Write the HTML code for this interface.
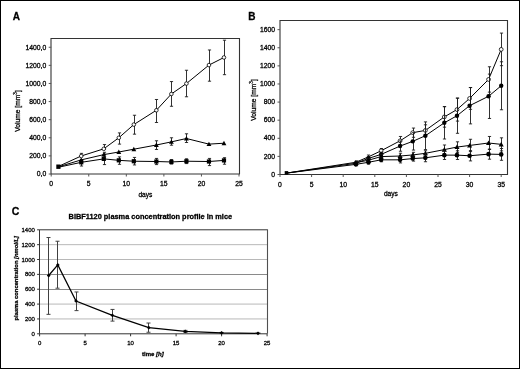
<!DOCTYPE html>
<html><head><meta charset="utf-8"><title>Figure</title>
<style>
html,body{margin:0;padding:0;background:#fff;}
body{width:520px;height:369px;overflow:hidden;}
svg{display:block;font-family:"Liberation Sans", Arial, sans-serif;}
text{stroke:#000;stroke-width:0.28px;}
</style></head><body>
<svg width="520" height="369" viewBox="0 0 520 369">
<rect x="0.5" y="0.5" width="519" height="368" fill="#fff" stroke="#000" stroke-width="1"/><g font-weight="bold" font-size="10" fill="#000"><text x="12.8" y="19.9">A</text><text x="248.2" y="19.8">B</text><text x="11.7" y="214.5" font-size="10.5">C</text></g><path d="M51,174 V38.5 H239.5 V174 Z" fill="none" stroke="#333" stroke-width="1.1"/><g stroke="#555" stroke-width="1"><line x1="48.7" y1="174" x2="51.2" y2="174"/><line x1="48.7" y1="155.89" x2="51.2" y2="155.89"/><line x1="48.7" y1="137.79" x2="51.2" y2="137.79"/><line x1="48.7" y1="119.68" x2="51.2" y2="119.68"/><line x1="48.7" y1="101.57" x2="51.2" y2="101.57"/><line x1="48.7" y1="83.47" x2="51.2" y2="83.47"/><line x1="48.7" y1="65.36" x2="51.2" y2="65.36"/><line x1="48.7" y1="47.25" x2="51.2" y2="47.25"/><line x1="51.2" y1="174" x2="51.2" y2="176.5"/><line x1="88.76" y1="174" x2="88.76" y2="176.5"/><line x1="126.32" y1="174" x2="126.32" y2="176.5"/><line x1="163.88" y1="174" x2="163.88" y2="176.5"/><line x1="201.44" y1="174" x2="201.44" y2="176.5"/><line x1="239" y1="174" x2="239" y2="176.5"/></g><g font-size="6.8" fill="#000"><text x="46.2" y="176.4" text-anchor="end">0,0</text><text x="46.2" y="158.29" text-anchor="end">200,0</text><text x="46.2" y="140.19" text-anchor="end">400,0</text><text x="46.2" y="122.08" text-anchor="end">600,0</text><text x="46.2" y="103.97" text-anchor="end">800,0</text><text x="46.2" y="85.87" text-anchor="end">1000,0</text><text x="46.2" y="67.76" text-anchor="end">1200,0</text><text x="46.2" y="49.65" text-anchor="end">1400,0</text><text x="51.2" y="186.3" text-anchor="middle">0</text><text x="88.76" y="186.3" text-anchor="middle">5</text><text x="126.32" y="186.3" text-anchor="middle">10</text><text x="163.88" y="186.3" text-anchor="middle">15</text><text x="201.44" y="186.3" text-anchor="middle">20</text><text x="239" y="186.3" text-anchor="middle">25</text></g><g stroke="#1a1a1a" stroke-width="0.9"><line x1="81.5" y1="159.51" x2="81.5" y2="166.03"/><line x1="79.9" y1="159.51" x2="83.1" y2="159.51"/><line x1="79.9" y1="166.03" x2="83.1" y2="166.03"/><line x1="104.5" y1="154.17" x2="104.5" y2="164.58"/><line x1="102.9" y1="154.17" x2="106.1" y2="154.17"/><line x1="102.9" y1="164.58" x2="106.1" y2="164.58"/><line x1="119.5" y1="156.89" x2="119.5" y2="164.31"/><line x1="117.9" y1="156.89" x2="121.1" y2="156.89"/><line x1="117.9" y1="164.31" x2="121.1" y2="164.31"/><line x1="134.5" y1="157.43" x2="134.5" y2="164.95"/><line x1="132.9" y1="157.43" x2="136.1" y2="157.43"/><line x1="132.9" y1="164.95" x2="136.1" y2="164.95"/><line x1="156.5" y1="158.43" x2="156.5" y2="164.58"/><line x1="154.9" y1="158.43" x2="158.1" y2="158.43"/><line x1="154.9" y1="164.58" x2="158.1" y2="164.58"/><line x1="171.5" y1="159.51" x2="171.5" y2="164.04"/><line x1="169.9" y1="159.51" x2="173.1" y2="159.51"/><line x1="169.9" y1="164.04" x2="173.1" y2="164.04"/><line x1="186.5" y1="158.79" x2="186.5" y2="163.59"/><line x1="184.9" y1="158.79" x2="188.1" y2="158.79"/><line x1="184.9" y1="163.59" x2="188.1" y2="163.59"/><line x1="209.5" y1="158.43" x2="209.5" y2="165.58"/><line x1="207.9" y1="158.43" x2="211.1" y2="158.43"/><line x1="207.9" y1="165.58" x2="211.1" y2="165.58"/><line x1="224.5" y1="157.7" x2="224.5" y2="164.22"/><line x1="222.9" y1="157.7" x2="226.1" y2="157.7"/><line x1="222.9" y1="164.22" x2="226.1" y2="164.22"/></g><polyline points="58.71,167.21 81.25,162.32 103.78,158.88 118.81,160.33 133.83,161.23 156.37,161.51 171.39,161.96 186.42,161.23 208.95,161.51 223.98,160.42" fill="none" stroke="#000" stroke-width="1.0"/><rect x="79.15" y="160.22" width="4.2" height="4.2" fill="#000"/><rect x="101.68" y="156.78" width="4.2" height="4.2" fill="#000"/><rect x="116.71" y="158.23" width="4.2" height="4.2" fill="#000"/><rect x="131.73" y="159.13" width="4.2" height="4.2" fill="#000"/><rect x="154.27" y="159.41" width="4.2" height="4.2" fill="#000"/><rect x="169.29" y="159.86" width="4.2" height="4.2" fill="#000"/><rect x="184.32" y="159.13" width="4.2" height="4.2" fill="#000"/><rect x="206.85" y="159.41" width="4.2" height="4.2" fill="#000"/><rect x="221.88" y="158.32" width="4.2" height="4.2" fill="#000"/><g stroke="#1a1a1a" stroke-width="0.9"><line x1="104.5" y1="152.27" x2="104.5" y2="156.8"/><line x1="102.9" y1="152.27" x2="106.1" y2="152.27"/><line x1="102.9" y1="156.8" x2="106.1" y2="156.8"/><line x1="156.5" y1="140.77" x2="156.5" y2="149.47"/><line x1="154.9" y1="140.77" x2="158.1" y2="140.77"/><line x1="154.9" y1="149.47" x2="158.1" y2="149.47"/><line x1="171.5" y1="137.79" x2="171.5" y2="145.21"/><line x1="169.9" y1="137.79" x2="173.1" y2="137.79"/><line x1="169.9" y1="145.21" x2="173.1" y2="145.21"/><line x1="186.5" y1="133.8" x2="186.5" y2="142.49"/><line x1="184.9" y1="133.8" x2="188.1" y2="133.8"/><line x1="184.9" y1="142.49" x2="188.1" y2="142.49"/></g><polyline points="58.71,166.76 81.25,159.88 103.78,154.63 118.81,152 133.83,149.19 156.37,145.03 171.39,141.86 186.42,138.51 208.95,144.12 223.98,143.22" fill="none" stroke="#000" stroke-width="1.0"/><polygon points="81.25,157.46 83.66,161.81 78.83,161.81" fill="#000"/><polygon points="103.78,152.21 106.2,156.56 101.37,156.56" fill="#000"/><polygon points="118.81,149.59 121.22,153.93 116.39,153.93" fill="#000"/><polygon points="133.83,146.78 136.25,151.13 131.42,151.13" fill="#000"/><polygon points="156.37,142.61 158.78,146.96 153.95,146.96" fill="#000"/><polygon points="171.39,139.45 173.81,143.79 168.98,143.79" fill="#000"/><polygon points="186.42,136.1 188.83,140.44 184,140.44" fill="#000"/><polygon points="208.95,141.71 211.37,146.06 206.54,146.06" fill="#000"/><polygon points="223.98,140.8 226.39,145.15 221.56,145.15" fill="#000"/><g stroke="#1a1a1a" stroke-width="0.9"><line x1="81.5" y1="153.36" x2="81.5" y2="155.98"/><line x1="79.9" y1="153.36" x2="83.1" y2="153.36"/><line x1="79.9" y1="155.98" x2="83.1" y2="155.98"/><line x1="104.5" y1="144.58" x2="104.5" y2="148.83"/><line x1="102.9" y1="144.58" x2="106.1" y2="144.58"/><line x1="102.9" y1="148.83" x2="106.1" y2="148.83"/><line x1="119.5" y1="132.9" x2="119.5" y2="144.12"/><line x1="117.9" y1="132.9" x2="121.1" y2="132.9"/><line x1="117.9" y1="144.12" x2="121.1" y2="144.12"/><line x1="134.5" y1="115.24" x2="134.5" y2="134.17"/><line x1="132.9" y1="115.24" x2="136.1" y2="115.24"/><line x1="132.9" y1="134.17" x2="136.1" y2="134.17"/><line x1="156.5" y1="99.49" x2="156.5" y2="122.49"/><line x1="154.9" y1="99.49" x2="158.1" y2="99.49"/><line x1="154.9" y1="122.49" x2="158.1" y2="122.49"/><line x1="171.5" y1="81.57" x2="171.5" y2="106.28"/><line x1="169.9" y1="81.57" x2="173.1" y2="81.57"/><line x1="169.9" y1="106.28" x2="173.1" y2="106.28"/><line x1="186.5" y1="70.25" x2="186.5" y2="96.78"/><line x1="184.9" y1="70.25" x2="188.1" y2="70.25"/><line x1="184.9" y1="96.78" x2="188.1" y2="96.78"/><line x1="209.5" y1="49.97" x2="209.5" y2="81.2"/><line x1="207.9" y1="49.97" x2="211.1" y2="49.97"/><line x1="207.9" y1="81.2" x2="211.1" y2="81.2"/><line x1="224.5" y1="40.19" x2="224.5" y2="74.68"/><line x1="222.9" y1="40.19" x2="226.1" y2="40.19"/><line x1="222.9" y1="74.68" x2="226.1" y2="74.68"/></g><polyline points="58.71,166.3 81.25,155.98 103.78,148.83 118.81,137.79 133.83,124.57 156.37,110.26 171.39,93.97 186.42,83.56 208.95,65.09 223.98,57.48" fill="none" stroke="#000" stroke-width="1.0"/><circle cx="81.25" cy="155.98" r="1.8" fill="#fff" stroke="#000" stroke-width="0.8"/><circle cx="103.78" cy="148.83" r="1.8" fill="#fff" stroke="#000" stroke-width="0.8"/><circle cx="118.81" cy="137.79" r="1.8" fill="#fff" stroke="#000" stroke-width="0.8"/><circle cx="133.83" cy="124.57" r="1.8" fill="#fff" stroke="#000" stroke-width="0.8"/><circle cx="156.37" cy="110.26" r="1.8" fill="#fff" stroke="#000" stroke-width="0.8"/><circle cx="171.39" cy="93.97" r="1.8" fill="#fff" stroke="#000" stroke-width="0.8"/><circle cx="186.42" cy="83.56" r="1.8" fill="#fff" stroke="#000" stroke-width="0.8"/><circle cx="208.95" cy="65.09" r="1.8" fill="#fff" stroke="#000" stroke-width="0.8"/><circle cx="223.98" cy="57.48" r="1.8" fill="#fff" stroke="#000" stroke-width="0.8"/><rect x="56.3" y="164.5" width="4.2" height="4.4" fill="#000"/><text x="145.4" y="197.3" font-size="6.6" text-anchor="middle">days</text><text transform="translate(19.7,111) rotate(-90)" font-size="6.7" text-anchor="middle">Volume [mm<tspan font-size="4.6" dy="-2.6">3</tspan><tspan dy="2.6">]</tspan></text><path d="M280,174.5 V20.5 H507.5 V174.5 Z" fill="none" stroke="#333" stroke-width="1.1"/><g stroke="#555" stroke-width="1"><line x1="277.5" y1="174.5" x2="280" y2="174.5"/><line x1="277.5" y1="156.39" x2="280" y2="156.39"/><line x1="277.5" y1="138.29" x2="280" y2="138.29"/><line x1="277.5" y1="120.18" x2="280" y2="120.18"/><line x1="277.5" y1="102.08" x2="280" y2="102.08"/><line x1="277.5" y1="83.97" x2="280" y2="83.97"/><line x1="277.5" y1="65.86" x2="280" y2="65.86"/><line x1="277.5" y1="47.76" x2="280" y2="47.76"/><line x1="277.5" y1="29.65" x2="280" y2="29.65"/><line x1="280" y1="174.5" x2="280" y2="177"/><line x1="311.6" y1="174.5" x2="311.6" y2="177"/><line x1="343.2" y1="174.5" x2="343.2" y2="177"/><line x1="374.8" y1="174.5" x2="374.8" y2="177"/><line x1="406.4" y1="174.5" x2="406.4" y2="177"/><line x1="438" y1="174.5" x2="438" y2="177"/><line x1="469.6" y1="174.5" x2="469.6" y2="177"/><line x1="501.2" y1="174.5" x2="501.2" y2="177"/></g><g font-size="6.8" fill="#000"><text x="275" y="176.7" text-anchor="end">0</text><text x="275" y="158.59" text-anchor="end">200</text><text x="275" y="140.49" text-anchor="end">400</text><text x="275" y="122.38" text-anchor="end">600</text><text x="275" y="104.28" text-anchor="end">800</text><text x="275" y="86.17" text-anchor="end">1000</text><text x="275" y="68.06" text-anchor="end">1200</text><text x="275" y="49.96" text-anchor="end">1400</text><text x="275" y="31.85" text-anchor="end">1600</text><text x="280" y="187" text-anchor="middle">0</text><text x="311.6" y="187" text-anchor="middle">5</text><text x="343.2" y="187" text-anchor="middle">10</text><text x="374.8" y="187" text-anchor="middle">15</text><text x="406.4" y="187" text-anchor="middle">20</text><text x="438" y="187" text-anchor="middle">25</text><text x="469.6" y="187" text-anchor="middle">30</text><text x="501.2" y="187" text-anchor="middle">35</text></g><g stroke="#1a1a1a" stroke-width="0.9"><line x1="356.5" y1="160.92" x2="356.5" y2="163.64"/><line x1="354.9" y1="160.92" x2="358.1" y2="160.92"/><line x1="354.9" y1="163.64" x2="358.1" y2="163.64"/><line x1="368.5" y1="155.04" x2="368.5" y2="158.66"/><line x1="366.9" y1="155.04" x2="370.1" y2="155.04"/><line x1="366.9" y1="158.66" x2="370.1" y2="158.66"/><line x1="381.5" y1="148.52" x2="381.5" y2="153.04"/><line x1="379.9" y1="148.52" x2="383.1" y2="148.52"/><line x1="379.9" y1="153.04" x2="383.1" y2="153.04"/><line x1="400.5" y1="136.48" x2="400.5" y2="145.17"/><line x1="398.9" y1="136.48" x2="402.1" y2="136.48"/><line x1="398.9" y1="145.17" x2="402.1" y2="145.17"/><line x1="413.5" y1="128.06" x2="413.5" y2="137.29"/><line x1="411.9" y1="128.06" x2="415.1" y2="128.06"/><line x1="411.9" y1="137.29" x2="415.1" y2="137.29"/><line x1="425.5" y1="124.8" x2="425.5" y2="136.03"/><line x1="423.9" y1="124.8" x2="427.1" y2="124.8"/><line x1="423.9" y1="136.03" x2="427.1" y2="136.03"/><line x1="444.5" y1="106.69" x2="444.5" y2="127.15"/><line x1="442.9" y1="106.69" x2="446.1" y2="106.69"/><line x1="442.9" y1="127.15" x2="446.1" y2="127.15"/><line x1="457.5" y1="98.09" x2="457.5" y2="121.09"/><line x1="455.9" y1="98.09" x2="459.1" y2="98.09"/><line x1="455.9" y1="121.09" x2="459.1" y2="121.09"/><line x1="470.5" y1="87.59" x2="470.5" y2="109.32"/><line x1="468.9" y1="87.59" x2="472.1" y2="87.59"/><line x1="468.9" y1="109.32" x2="472.1" y2="109.32"/><line x1="489.5" y1="66.77" x2="489.5" y2="92.12"/><line x1="487.9" y1="66.77" x2="491.1" y2="66.77"/><line x1="487.9" y1="92.12" x2="491.1" y2="92.12"/><line x1="501.5" y1="33.09" x2="501.5" y2="65.68"/><line x1="499.9" y1="33.09" x2="503.1" y2="33.09"/><line x1="499.9" y1="65.68" x2="503.1" y2="65.68"/></g><polyline points="286.32,173.14 355.84,162.28 368.48,156.85 381.12,150.78 400.08,140.82 412.72,132.68 425.36,130.41 444.32,116.92 456.96,109.59 469.6,98.46 488.56,79.44 501.2,49.39" fill="none" stroke="#000" stroke-width="1.0"/><circle cx="381.12" cy="150.78" r="1.9" fill="#fff" stroke="#000" stroke-width="0.8"/><circle cx="400.08" cy="140.82" r="1.9" fill="#fff" stroke="#000" stroke-width="0.8"/><circle cx="412.72" cy="132.68" r="1.9" fill="#fff" stroke="#000" stroke-width="0.8"/><circle cx="425.36" cy="130.41" r="1.9" fill="#fff" stroke="#000" stroke-width="0.8"/><circle cx="444.32" cy="116.92" r="1.9" fill="#fff" stroke="#000" stroke-width="0.8"/><circle cx="456.96" cy="109.59" r="1.9" fill="#fff" stroke="#000" stroke-width="0.8"/><circle cx="469.6" cy="98.46" r="1.9" fill="#fff" stroke="#000" stroke-width="0.8"/><circle cx="488.56" cy="79.44" r="1.9" fill="#fff" stroke="#000" stroke-width="0.8"/><circle cx="501.2" cy="49.39" r="1.9" fill="#fff" stroke="#000" stroke-width="0.8"/><g stroke="#1a1a1a" stroke-width="0.9"><line x1="356.5" y1="161.92" x2="356.5" y2="164.63"/><line x1="354.9" y1="161.92" x2="358.1" y2="161.92"/><line x1="354.9" y1="164.63" x2="358.1" y2="164.63"/><line x1="368.5" y1="156.58" x2="368.5" y2="160.2"/><line x1="366.9" y1="156.58" x2="370.1" y2="156.58"/><line x1="366.9" y1="160.2" x2="370.1" y2="160.2"/><line x1="381.5" y1="152.14" x2="381.5" y2="156.67"/><line x1="379.9" y1="152.14" x2="383.1" y2="152.14"/><line x1="379.9" y1="156.67" x2="383.1" y2="156.67"/><line x1="400.5" y1="140.91" x2="400.5" y2="151.23"/><line x1="398.9" y1="140.91" x2="402.1" y2="140.91"/><line x1="398.9" y1="151.23" x2="402.1" y2="151.23"/><line x1="413.5" y1="132.68" x2="413.5" y2="150.06"/><line x1="411.9" y1="132.68" x2="415.1" y2="132.68"/><line x1="411.9" y1="150.06" x2="415.1" y2="150.06"/><line x1="425.5" y1="121.9" x2="425.5" y2="149.6"/><line x1="423.9" y1="121.9" x2="427.1" y2="121.9"/><line x1="423.9" y1="149.6" x2="427.1" y2="149.6"/><line x1="444.5" y1="106.6" x2="444.5" y2="139.01"/><line x1="442.9" y1="106.6" x2="446.1" y2="106.6"/><line x1="442.9" y1="139.01" x2="446.1" y2="139.01"/><line x1="457.5" y1="98.18" x2="457.5" y2="133.31"/><line x1="455.9" y1="98.18" x2="459.1" y2="98.18"/><line x1="455.9" y1="133.31" x2="459.1" y2="133.31"/><line x1="470.5" y1="87.5" x2="470.5" y2="123.89"/><line x1="468.9" y1="87.5" x2="472.1" y2="87.5"/><line x1="468.9" y1="123.89" x2="472.1" y2="123.89"/><line x1="489.5" y1="74.1" x2="489.5" y2="118.46"/><line x1="487.9" y1="74.1" x2="491.1" y2="74.1"/><line x1="487.9" y1="118.46" x2="491.1" y2="118.46"/><line x1="501.5" y1="61.79" x2="501.5" y2="109.77"/><line x1="499.9" y1="61.79" x2="503.1" y2="61.79"/><line x1="499.9" y1="109.77" x2="503.1" y2="109.77"/></g><polyline points="286.32,173.14 355.84,163.27 368.48,158.39 381.12,154.4 400.08,146.07 412.72,141.37 425.36,135.75 444.32,122.81 456.96,115.75 469.6,105.7 488.56,96.28 501.2,85.78" fill="none" stroke="#000" stroke-width="1.0"/><circle cx="355.84" cy="163.27" r="2.2" fill="#000"/><circle cx="368.48" cy="158.39" r="2.2" fill="#000"/><circle cx="381.12" cy="154.4" r="2.2" fill="#000"/><circle cx="400.08" cy="146.07" r="2.2" fill="#000"/><circle cx="412.72" cy="141.37" r="2.2" fill="#000"/><circle cx="425.36" cy="135.75" r="2.2" fill="#000"/><circle cx="444.32" cy="122.81" r="2.2" fill="#000"/><circle cx="456.96" cy="115.75" r="2.2" fill="#000"/><circle cx="469.6" cy="105.7" r="2.2" fill="#000"/><circle cx="488.56" cy="96.28" r="2.2" fill="#000"/><circle cx="501.2" cy="85.78" r="2.2" fill="#000"/><g stroke="#1a1a1a" stroke-width="0.9"><line x1="356.5" y1="161.37" x2="356.5" y2="164.09"/><line x1="354.9" y1="161.37" x2="358.1" y2="161.37"/><line x1="354.9" y1="164.09" x2="358.1" y2="164.09"/><line x1="368.5" y1="158.39" x2="368.5" y2="162.01"/><line x1="366.9" y1="158.39" x2="370.1" y2="158.39"/><line x1="366.9" y1="162.01" x2="370.1" y2="162.01"/><line x1="381.5" y1="154.58" x2="381.5" y2="158.57"/><line x1="379.9" y1="154.58" x2="383.1" y2="154.58"/><line x1="379.9" y1="158.57" x2="383.1" y2="158.57"/><line x1="400.5" y1="153.23" x2="400.5" y2="158.84"/><line x1="398.9" y1="153.23" x2="402.1" y2="153.23"/><line x1="398.9" y1="158.84" x2="402.1" y2="158.84"/><line x1="413.5" y1="152.32" x2="413.5" y2="157.57"/><line x1="411.9" y1="152.32" x2="415.1" y2="152.32"/><line x1="411.9" y1="157.57" x2="415.1" y2="157.57"/><line x1="425.5" y1="150.78" x2="425.5" y2="155.85"/><line x1="423.9" y1="150.78" x2="427.1" y2="150.78"/><line x1="423.9" y1="155.85" x2="427.1" y2="155.85"/><line x1="444.5" y1="144.99" x2="444.5" y2="154.22"/><line x1="442.9" y1="144.99" x2="446.1" y2="144.99"/><line x1="442.9" y1="154.22" x2="446.1" y2="154.22"/><line x1="457.5" y1="141.82" x2="457.5" y2="152.32"/><line x1="455.9" y1="141.82" x2="459.1" y2="141.82"/><line x1="455.9" y1="152.32" x2="459.1" y2="152.32"/><line x1="470.5" y1="139.28" x2="470.5" y2="151.6"/><line x1="468.9" y1="139.28" x2="472.1" y2="139.28"/><line x1="468.9" y1="151.6" x2="472.1" y2="151.6"/><line x1="489.5" y1="136.48" x2="489.5" y2="149.51"/><line x1="487.9" y1="136.48" x2="491.1" y2="136.48"/><line x1="487.9" y1="149.51" x2="491.1" y2="149.51"/><line x1="501.5" y1="137.84" x2="501.5" y2="150.87"/><line x1="499.9" y1="137.84" x2="503.1" y2="137.84"/><line x1="499.9" y1="150.87" x2="503.1" y2="150.87"/></g><polyline points="355.84,162.73 368.48,160.2 381.12,156.58 400.08,156.03 412.72,154.95 425.36,153.32 444.32,149.6 456.96,147.07 469.6,145.44 488.56,143 501.2,144.35" fill="none" stroke="#000" stroke-width="1.0"/><polygon points="355.84,160.2 358.37,164.76 353.31,164.76" fill="#000"/><polygon points="368.48,157.67 371.01,162.22 365.95,162.22" fill="#000"/><polygon points="381.12,154.05 383.65,158.6 378.59,158.6" fill="#000"/><polygon points="400.08,153.5 402.61,158.06 397.55,158.06" fill="#000"/><polygon points="412.72,152.42 415.25,156.97 410.19,156.97" fill="#000"/><polygon points="425.36,150.79 427.89,155.34 422.83,155.34" fill="#000"/><polygon points="444.32,147.07 446.85,151.63 441.79,151.63" fill="#000"/><polygon points="456.96,144.54 459.49,149.09 454.43,149.09" fill="#000"/><polygon points="469.6,142.91 472.13,147.46 467.07,147.46" fill="#000"/><polygon points="488.56,140.47 491.09,145.02 486.03,145.02" fill="#000"/><polygon points="501.2,141.82 503.73,146.38 498.67,146.38" fill="#000"/><g stroke="#1a1a1a" stroke-width="0.9"><line x1="356.5" y1="163" x2="356.5" y2="165.72"/><line x1="354.9" y1="163" x2="358.1" y2="163"/><line x1="354.9" y1="165.72" x2="358.1" y2="165.72"/><line x1="368.5" y1="160.47" x2="368.5" y2="164.09"/><line x1="366.9" y1="160.47" x2="370.1" y2="160.47"/><line x1="366.9" y1="164.09" x2="370.1" y2="164.09"/><line x1="381.5" y1="157.93" x2="381.5" y2="161.74"/><line x1="379.9" y1="157.93" x2="383.1" y2="157.93"/><line x1="379.9" y1="161.74" x2="383.1" y2="161.74"/><line x1="400.5" y1="156.76" x2="400.5" y2="162.91"/><line x1="398.9" y1="156.76" x2="402.1" y2="156.76"/><line x1="398.9" y1="162.91" x2="402.1" y2="162.91"/><line x1="413.5" y1="156.03" x2="413.5" y2="161.1"/><line x1="411.9" y1="156.03" x2="415.1" y2="156.03"/><line x1="411.9" y1="161.1" x2="415.1" y2="161.1"/><line x1="425.5" y1="153.95" x2="425.5" y2="161.74"/><line x1="423.9" y1="153.95" x2="427.1" y2="153.95"/><line x1="423.9" y1="161.74" x2="427.1" y2="161.74"/><line x1="444.5" y1="150.78" x2="444.5" y2="159.47"/><line x1="442.9" y1="150.78" x2="446.1" y2="150.78"/><line x1="442.9" y1="159.47" x2="446.1" y2="159.47"/><line x1="457.5" y1="150.78" x2="457.5" y2="159.47"/><line x1="455.9" y1="150.78" x2="459.1" y2="150.78"/><line x1="455.9" y1="159.47" x2="459.1" y2="159.47"/><line x1="470.5" y1="150.6" x2="470.5" y2="160.92"/><line x1="468.9" y1="150.6" x2="472.1" y2="150.6"/><line x1="468.9" y1="160.92" x2="472.1" y2="160.92"/><line x1="489.5" y1="149.06" x2="489.5" y2="159.2"/><line x1="487.9" y1="149.06" x2="491.1" y2="149.06"/><line x1="487.9" y1="159.2" x2="491.1" y2="159.2"/><line x1="501.5" y1="148.52" x2="501.5" y2="160.29"/><line x1="499.9" y1="148.52" x2="503.1" y2="148.52"/><line x1="499.9" y1="160.29" x2="503.1" y2="160.29"/></g><polyline points="286.32,173.14 355.84,164.36 368.48,162.28 381.12,159.83 400.08,159.83 412.72,158.57 425.36,157.84 444.32,155.13 456.96,155.13 469.6,155.76 488.56,154.13 501.2,154.4" fill="none" stroke="#000" stroke-width="1.0"/><circle cx="355.84" cy="164.36" r="2.3" fill="#000"/><circle cx="368.48" cy="162.28" r="2.3" fill="#000"/><circle cx="381.12" cy="159.83" r="2.3" fill="#000"/><circle cx="400.08" cy="159.83" r="2.3" fill="#000"/><circle cx="412.72" cy="158.57" r="2.3" fill="#000"/><circle cx="425.36" cy="157.84" r="2.3" fill="#000"/><circle cx="444.32" cy="155.13" r="2.3" fill="#000"/><circle cx="456.96" cy="155.13" r="2.3" fill="#000"/><circle cx="469.6" cy="155.76" r="2.3" fill="#000"/><circle cx="488.56" cy="154.13" r="2.3" fill="#000"/><circle cx="501.2" cy="154.4" r="2.3" fill="#000"/><rect x="284.7" y="171.1" width="3.5" height="3.5" fill="#000"/><text x="390.9" y="195.7" font-size="6.6" text-anchor="middle">days</text><text transform="translate(256,100) rotate(-90)" font-size="6.7" text-anchor="middle">Volume [mm<tspan font-size="4.6" dy="-2.6">3</tspan><tspan dy="2.6">]</tspan></text><g stroke-width="1"><line x1="39.6" y1="318.94" x2="267.1" y2="318.94" stroke="#b8b8b8"/><line x1="39.6" y1="304.09" x2="267.1" y2="304.09" stroke="#b8b8b8"/><line x1="39.6" y1="289.5" x2="267.1" y2="289.5" stroke="#8a8a8a"/><line x1="39.6" y1="274.5" x2="267.1" y2="274.5" stroke="#8a8a8a"/><line x1="39.6" y1="259.51" x2="267.1" y2="259.51" stroke="#b8b8b8"/><line x1="39.6" y1="244.66" x2="267.1" y2="244.66" stroke="#b8b8b8"/><line x1="39.6" y1="229.8" x2="267.1" y2="229.8" stroke="#b8b8b8"/></g><path d="M39.6,229.8 H267.5 V333.8" fill="none" stroke="#505050" stroke-width="1.1"/><g stroke="#333" stroke-width="1"><line x1="37.1" y1="333.8" x2="39.6" y2="333.8"/><line x1="37.1" y1="318.94" x2="39.6" y2="318.94"/><line x1="37.1" y1="304.09" x2="39.6" y2="304.09"/><line x1="37.1" y1="289.23" x2="39.6" y2="289.23"/><line x1="37.1" y1="274.37" x2="39.6" y2="274.37"/><line x1="37.1" y1="259.51" x2="39.6" y2="259.51"/><line x1="37.1" y1="244.66" x2="39.6" y2="244.66"/><line x1="37.1" y1="229.8" x2="39.6" y2="229.8"/><line x1="39.6" y1="333.8" x2="39.6" y2="336.3"/><line x1="85.1" y1="333.8" x2="85.1" y2="336.3"/><line x1="130.6" y1="333.8" x2="130.6" y2="336.3"/><line x1="176.1" y1="333.8" x2="176.1" y2="336.3"/><line x1="221.6" y1="333.8" x2="221.6" y2="336.3"/><line x1="267.1" y1="333.8" x2="267.1" y2="336.3"/><line x1="39.5" y1="229.8" x2="39.5" y2="333.8"/><line x1="39.6" y1="333.8" x2="267.1" y2="333.8"/></g><g font-size="6" fill="#000"><text x="34.9" y="335.9" text-anchor="end">0</text><text x="34.9" y="321.04" text-anchor="end">200</text><text x="34.9" y="306.19" text-anchor="end">400</text><text x="34.9" y="291.33" text-anchor="end">600</text><text x="34.9" y="276.47" text-anchor="end">800</text><text x="34.9" y="261.61" text-anchor="end">1000</text><text x="34.9" y="246.76" text-anchor="end">1200</text><text x="34.9" y="231.9" text-anchor="end">1400</text><text x="39.6" y="344.6" text-anchor="middle">0</text><text x="85.1" y="344.6" text-anchor="middle">5</text><text x="130.6" y="344.6" text-anchor="middle">10</text><text x="176.1" y="344.6" text-anchor="middle">15</text><text x="221.6" y="344.6" text-anchor="middle">20</text><text x="267.1" y="344.6" text-anchor="middle">25</text></g><g stroke="#404040" stroke-width="1"><line x1="48.5" y1="237.53" x2="48.5" y2="314.34"/><line x1="46.5" y1="237.53" x2="50.5" y2="237.53"/><line x1="46.5" y1="314.34" x2="50.5" y2="314.34"/><line x1="57.5" y1="241.24" x2="57.5" y2="288.19"/><line x1="55.5" y1="241.24" x2="59.5" y2="241.24"/><line x1="55.5" y1="288.19" x2="59.5" y2="288.19"/><line x1="76.5" y1="291.98" x2="76.5" y2="310.62"/><line x1="74.5" y1="291.98" x2="78.5" y2="291.98"/><line x1="74.5" y1="310.62" x2="78.5" y2="310.62"/><line x1="112.5" y1="309.43" x2="112.5" y2="321.1"/><line x1="110.5" y1="309.43" x2="114.5" y2="309.43"/><line x1="110.5" y1="321.1" x2="114.5" y2="321.1"/><line x1="148.5" y1="323.03" x2="148.5" y2="332.24"/><line x1="146.5" y1="323.03" x2="150.5" y2="323.03"/><line x1="146.5" y1="332.24" x2="150.5" y2="332.24"/><line x1="185.5" y1="330.38" x2="185.5" y2="332.46"/><line x1="183.5" y1="330.38" x2="187.5" y2="330.38"/><line x1="183.5" y1="332.46" x2="187.5" y2="332.46"/><line x1="221.5" y1="332.46" x2="221.5" y2="333.21"/><line x1="219.5" y1="332.46" x2="223.5" y2="332.46"/><line x1="219.5" y1="333.21" x2="223.5" y2="333.21"/><line x1="258.5" y1="333.06" x2="258.5" y2="333.5"/><line x1="256.5" y1="333.06" x2="260.5" y2="333.06"/><line x1="256.5" y1="333.5" x2="260.5" y2="333.5"/></g><polyline points="48.7,275.49 57.8,264.94 76,300.97 112.4,315.3 148.8,327.63 185.2,331.42 221.6,332.83 258,333.28" fill="none" stroke="#000" stroke-width="1.25"/><path d="M48.7,273.59 L50.6,275.49 L48.7,277.39 L46.8,275.49Z" fill="#000"/><path d="M57.8,263.04 L59.7,264.94 L57.8,266.84 L55.9,264.94Z" fill="#000"/><path d="M76,299.07 L77.9,300.97 L76,302.87 L74.1,300.97Z" fill="#000"/><path d="M112.4,313.4 L114.3,315.3 L112.4,317.2 L110.5,315.3Z" fill="#000"/><path d="M148.8,325.73 L150.7,327.63 L148.8,329.53 L146.9,327.63Z" fill="#000"/><path d="M185.2,329.52 L187.1,331.42 L185.2,333.32 L183.3,331.42Z" fill="#000"/><path d="M221.6,330.93 L223.5,332.83 L221.6,334.73 L219.7,332.83Z" fill="#000"/><path d="M258,331.38 L259.9,333.28 L258,335.18 L256.1,333.28Z" fill="#000"/><text x="68.6" y="219.4" font-size="7.39" font-weight="bold">BIBF1120 plasma concentration profile in mice</text><text x="142" y="355.6" font-size="6" font-weight="bold">time <tspan font-style="italic">[h]</tspan></text><text transform="translate(18.3,278.3) rotate(-90)" font-size="5.8" font-weight="bold" text-anchor="middle">plasma concentration <tspan font-style="italic">[nmol/L]</tspan></text>
</svg>
</body></html>
